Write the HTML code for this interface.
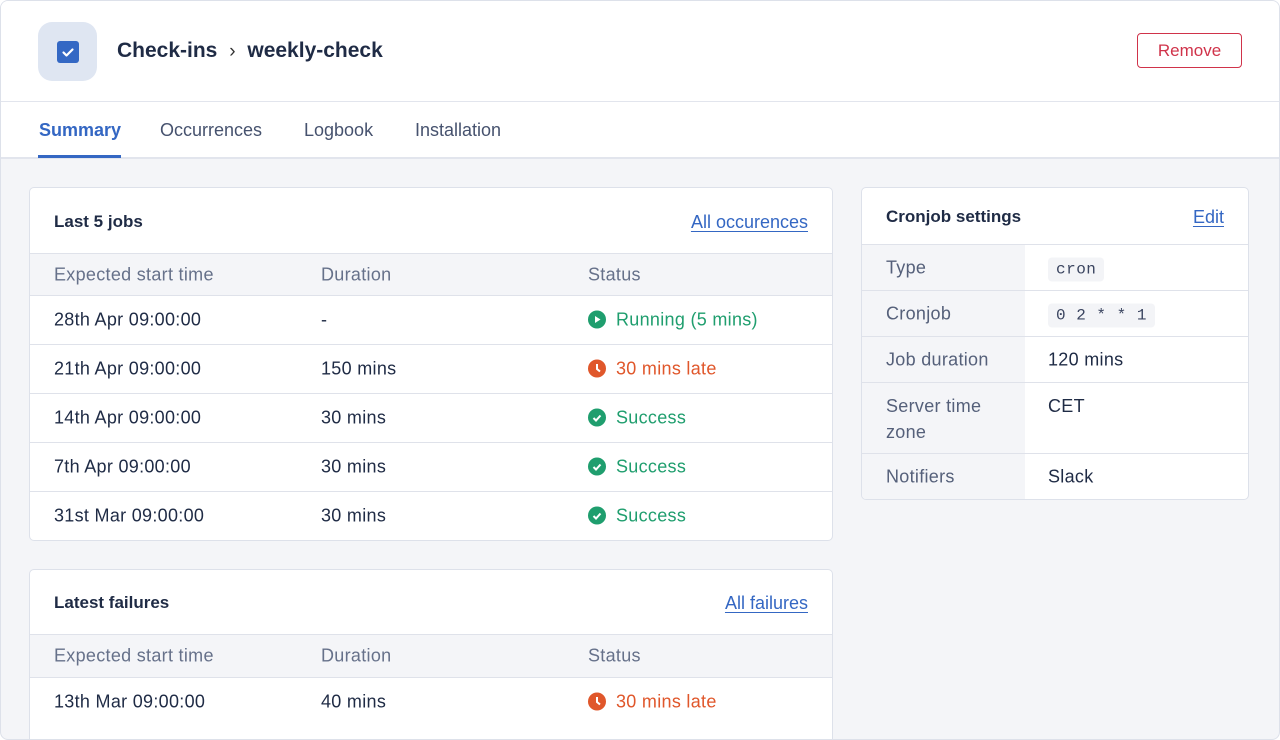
<!DOCTYPE html>
<html><head><style>
*{box-sizing:border-box;margin:0;padding:0}
body{width:1280px;height:720px;overflow:hidden;background:#fff;font-family:"Liberation Sans",sans-serif;color:#1f2b45;position:relative}
.frame{position:absolute;left:0;top:0;width:1280px;height:740px;border:1px solid #dde1ea;border-radius:8px;overflow:hidden;background:#f4f5f8}
.hdr{position:absolute;left:0;top:0;width:100%;height:157px;background:#fff}
.l1{position:absolute;left:0;top:100px;width:100%;height:1px;background:#e2e5ed}
.l2{position:absolute;left:0;top:156px;width:100%;height:2px;background:#e2e5ed}
.abs{position:absolute;white-space:nowrap}
.card{position:absolute;background:#fff;border:1px solid #dde1ea;border-radius:5px;overflow:hidden}
.row{position:absolute;left:-1px;width:calc(100% + 2px);border-top:1px solid #dfe2ea;font-size:18px;letter-spacing:0.3px}
.row span{position:absolute;top:50%;transform:translateY(-50%)}
.th{background:#f4f5f8;color:#66718a}
.g{color:#1f9e6e}.o{color:#e0572b}
.ic{display:inline-block;width:18px;height:18px;border-radius:50%;vertical-align:-3px;margin-right:10px;position:relative}
a{color:#3467c3;text-decoration:underline;text-underline-offset:3px}
.code{font-family:"Liberation Mono",monospace;font-size:16px;letter-spacing:0.5px;background:#f3f4f7;border-radius:4px;padding:3px 8px;color:#3b4560}
.tab{position:absolute;top:119px;font-size:18px;color:#46526e}
</style></head><body>
<div class="frame">
<div class="hdr"></div>
<div class="l1"></div><div class="l2"></div>
<div class="abs" style="left:37px;top:21px;width:59px;height:59px;background:#dfe6f2;border-radius:14px"></div>
<div class="abs" style="left:56px;top:40px;width:22px;height:22px;background:#3468c4;border-radius:3px"><svg width="22" height="22"><path d="M6.5 11.5l3 3 6-6" stroke="#fff" stroke-width="2.2" fill="none" stroke-linecap="round" stroke-linejoin="round"/></svg></div>
<div class="abs" style="left:116px;top:38px;font-size:21px;font-weight:bold;color:#1f2b45">Check-ins <span style="font-weight:normal;color:#333;margin:0 6px;font-size:19px">›</span> weekly-check</div>
<div class="abs" style="left:1136px;top:32px;width:105px;height:35px;border:1px solid #d0334a;border-radius:4px;color:#d0334a;font-size:17px;text-align:center;line-height:33px">Remove</div>
<div class="tab" style="left:38px;font-weight:bold;color:#3467c3">Summary</div>
<div class="abs" style="left:37px;top:154px;width:83px;height:3px;background:#3467c3"></div>
<div class="tab" style="left:159px">Occurrences</div>
<div class="tab" style="left:303px">Logbook</div>
<div class="tab" style="left:414px">Installation</div>

<div class="card" style="left:28px;top:186px;width:804px;height:354px">
<div class="abs" style="left:24px;top:24px;font-size:17px;font-weight:bold">Last 5 jobs</div>
<div class="abs" style="right:24px;top:24px;font-size:18px"><a>All occurences</a></div>
<div class="row th" style="top:65px;height:42px"><span style="left:25px">Expected start time</span><span style="left:292px">Duration</span><span style="left:559px">Status</span></div>
<div class="row" style="top:107px;height:49px"><span style="left:25px">28th Apr 09:00:00</span><span style="left:292px">-</span><span style="left:559px" class="g"><i class="ic" style="background:#1f9e6e"><svg width="18" height="18" style="position:absolute;left:0;top:0"><path d="M7 5.5v7l5.5-3.5z" fill="#fff"/></svg></i>Running (5 mins)</span></div>
<div class="row" style="top:156px;height:49px"><span style="left:25px">21th Apr 09:00:00</span><span style="left:292px">150 mins</span><span style="left:559px" class="o"><i class="ic" style="background:#e0572b"><svg width="18" height="18" style="position:absolute;left:0;top:0"><path d="M9 4.5v5l3 2.5" stroke="#fff" stroke-width="2" fill="none"/></svg></i>30 mins late</span></div>
<div class="row" style="top:205px;height:49px"><span style="left:25px">14th Apr 09:00:00</span><span style="left:292px">30 mins</span><span style="left:559px" class="g"><i class="ic" style="background:#1f9e6e"><svg width="18" height="18" style="position:absolute;left:0;top:0"><path d="M5.5 9.5l2.5 2.5 4.5-5" stroke="#fff" stroke-width="2" fill="none"/></svg></i>Success</span></div>
<div class="row" style="top:254px;height:49px"><span style="left:25px">7th Apr 09:00:00</span><span style="left:292px">30 mins</span><span style="left:559px" class="g"><i class="ic" style="background:#1f9e6e"><svg width="18" height="18" style="position:absolute;left:0;top:0"><path d="M5.5 9.5l2.5 2.5 4.5-5" stroke="#fff" stroke-width="2" fill="none"/></svg></i>Success</span></div>
<div class="row" style="top:303px;height:49px"><span style="left:25px">31st Mar 09:00:00</span><span style="left:292px">30 mins</span><span style="left:559px" class="g"><i class="ic" style="background:#1f9e6e"><svg width="18" height="18" style="position:absolute;left:0;top:0"><path d="M5.5 9.5l2.5 2.5 4.5-5" stroke="#fff" stroke-width="2" fill="none"/></svg></i>Success</span></div>
</div>

<div class="card" style="left:28px;top:568px;width:804px;height:200px">
<div class="abs" style="left:24px;top:23px;font-size:17px;font-weight:bold">Latest failures</div>
<div class="abs" style="right:24px;top:23px;font-size:18px"><a>All failures</a></div>
<div class="row th" style="top:64px;height:43px"><span style="left:25px">Expected start time</span><span style="left:292px">Duration</span><span style="left:559px">Status</span></div>
<div class="row" style="top:107px;height:49px"><span style="left:25px">13th Mar 09:00:00</span><span style="left:292px">40 mins</span><span style="left:559px" class="o"><i class="ic" style="background:#e0572b"><svg width="18" height="18" style="position:absolute;left:0;top:0"><path d="M9 4.5v5l3 2.5" stroke="#fff" stroke-width="2" fill="none"/></svg></i>30 mins late</span></div>
</div>

<div class="card" style="left:860px;top:186px;width:388px;height:313px">
<div class="abs" style="left:0;top:56px;width:163px;height:260px;background:#f4f5f8"></div>
<div class="abs" style="left:24px;top:19px;font-size:17px;font-weight:bold">Cronjob settings</div>
<div class="abs" style="right:24px;top:19px;font-size:18px"><a>Edit</a></div>
<div class="row" style="top:56px;height:46px"><span style="left:25px;color:#55607a">Type</span><span style="left:187px"><span class="code" style="position:static">cron</span></span></div>
<div class="row" style="top:102px;height:46px"><span style="left:25px;color:#55607a">Cronjob</span><span style="left:187px"><span class="code" style="position:static">0 2 * * 1</span></span></div>
<div class="row" style="top:148px;height:46px"><span style="left:25px;color:#55607a">Job duration</span><span style="left:187px">120 mins</span></div>
<div class="row" style="top:194px;height:71px"><span style="left:25px;top:10px;transform:none;color:#55607a;line-height:26px">Server time<br>zone</span><span style="left:187px;top:10px;transform:none;line-height:26px">CET</span></div>
<div class="row" style="top:265px;height:46px"><span style="left:25px;color:#55607a">Notifiers</span><span style="left:187px">Slack</span></div>
</div>
</div>
</body></html>
